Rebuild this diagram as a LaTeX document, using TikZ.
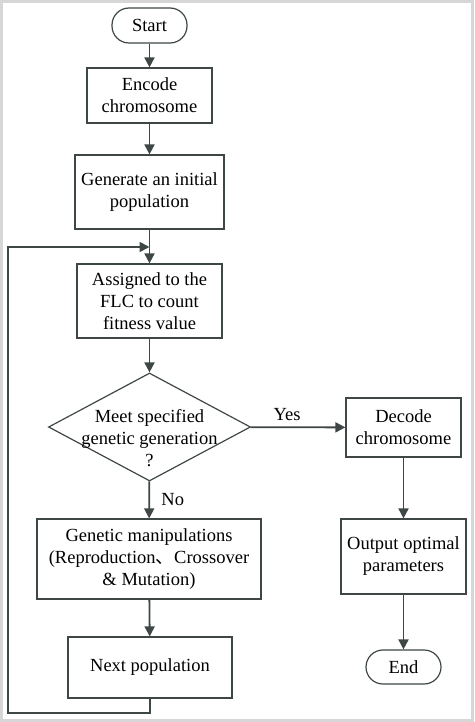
\documentclass[tikz,border=0pt]{standalone}
\usepackage{fontspec}
\setmainfont{Liberation Serif}
\newfontfamily\timesfont{Liberation Serif}
\newfontfamily\cjk{Noto Sans CJK SC}
\usetikzlibrary{arrows.meta,shapes.geometric}
\definecolor{linegray}{RGB}{62,70,70}
\definecolor{framegray}{RGB}{214,214,214}

\begin{document}
\begin{tikzpicture}[
    x=1pt, y=-1pt,
    font=\timesfont\fontsize{18.5}{22}\selectfont,
    box/.style={draw=linegray, line width=1.2pt, align=center, inner sep=0pt},
    term/.style={box, rounded corners=17pt},
    decision/.style={draw=linegray, line width=1.2pt, diamond, inner sep=0pt,
      minimum width=202pt, minimum height=108pt},
    arr/.style={draw=linegray, line width=1.8pt, -{Triangle[length=10pt,width=10pt]}}
  ]
  \useasboundingbox (0,0) rectangle (474,722);
  \draw[framegray, line width=3pt] (1.5,1.5) rectangle (472.5,720.5);

  \node[term, minimum width=75pt, minimum height=35pt] (start) at (149.5,25.5) {Start};
  \node[box, minimum width=125pt, minimum height=55pt] (encode) at (149.5,95.5) {Encode\\chromosome};
  \node[box, minimum width=149pt, minimum height=74pt] (init) at (149.5,192) {Generate an initial\\population};
  \node[box, minimum width=145pt, minimum height=74pt] (fitness) at (149.5,301) {Assigned to the\\FLC to count\\fitness value};
  \node[decision] (meet) at (149.5,427) {};
  \node[align=center, inner sep=0pt] (meettext) at (149.5,438) {Meet specified\\genetic generation\\?};
  \node[box, minimum width=224pt, minimum height=80pt] (manip) at (149,559) {Genetic manipulations\\(Reproduction{\cjk 、}Crossover\\\& Mutation)};
  \node[box, minimum width=164pt, minimum height=61pt] (next) at (150,667.5) {Next population};
  \node[box, minimum width=115pt, minimum height=59pt] (decode) at (403.5,427.5) {Decode\\chromosome};
  \node[box, minimum width=125pt, minimum height=75pt] (output) at (403.5,556.5) {Output optimal\\parameters};
  \node[term, minimum width=75pt, minimum height=34pt] (finish) at (403.5,667) {End};

  \coordinate (join) at (149.5,247);
  \coordinate (corner) at (8,713);

  \draw[arr] (start) -- (encode);
  \draw[arr] (encode) -- (init);
  \draw[arr] (init) -- (fitness);
  \draw[arr] (fitness) -- (meet);
  \draw[arr] (meet) -- node[above, xshift=-11pt, yshift=2pt] {Yes} (decode);
  \draw[arr] (meet) -- node[right, xshift=8pt] {No} (manip);
  \draw[arr] (manip) -- (next);
  \draw[arr] (next.south) |- (corner) |- (join);
  \draw[arr] (decode) -- (output);
  \draw[arr] (output) -- (finish);
\end{tikzpicture}
\end{document}
